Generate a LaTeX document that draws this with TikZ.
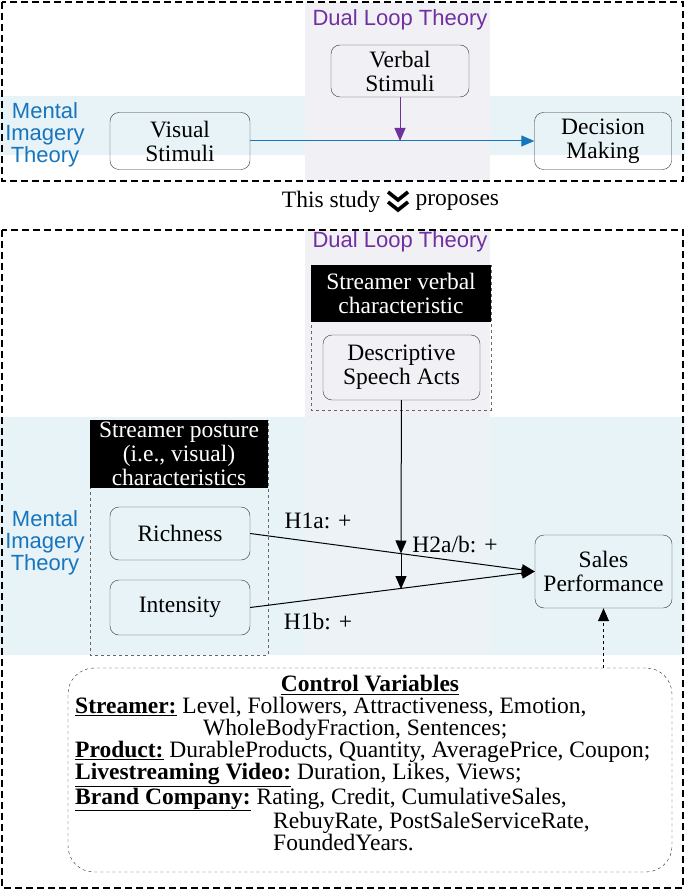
\documentclass[tikz,border=0pt]{standalone}
\usepackage{fontspec}
\setmainfont{Liberation Serif}
\newfontfamily\sansf{Liberation Sans}
\usetikzlibrary{arrows.meta}
\definecolor{bandblue}{RGB}{232,243,247}
\definecolor{colgray}{RGB}{241,241,245}
\definecolor{theoblue}{RGB}{23,117,189}
\definecolor{theopurple}{RGB}{112,48,160}
\tikzset{
  var/.style={draw=black!80,rounded corners=9pt,align=center,inner sep=0pt},
  head/.style={fill=black,text=white,align=center,inner sep=0pt},
  theory/.style={font=\sansf\fontsize{22}{22}\selectfont,align=center},
  lab/.style={inner sep=1pt},
  arr/.style={-{Triangle[length=13pt,width=11pt]},line width=1pt}
}
\begin{document}
\begin{tikzpicture}[x=1pt,y=-1pt,font=\fontsize{23.5}{24}\selectfont]
\useasboundingbox (0,0) rectangle (685,890);
% backgrounds
\fill[bandblue] (0,96) rectangle (685,155);
\fill[colgray] (305,2) rectangle (490,181);
\fill[bandblue] (0,417) rectangle (685,655);
\fill[colgray] (305,230) rectangle (490,417);
\fill[colgray!60!bandblue] (305,417) rectangle (490,655);
\draw[dashed,line width=1.2pt,dash pattern=on 7pt off 4pt] (2,2) rectangle (683,181);
\draw[dashed,line width=1.2pt,dash pattern=on 7pt off 4pt] (2,230) rectangle (683,888);
% top part
\node[theory,text=theopurple] (dualA) at (400,20) {Dual Loop Theory};
\node[theory,text=theoblue] (mentA) at (45,135) {Mental\\Imagery\\Theory};
\node[var,minimum width=138pt,minimum height=52pt] (verbal) at (400,71) {Verbal\\Stimuli};
\node[var,minimum width=140pt,minimum height=57pt] (visual) at (180,141) {Visual\\Stimuli};
\node[var,minimum width=137pt,minimum height=57pt] (decide) at (603,141) {Decision\\Making};
\draw[arr,theoblue] (visual) -- (decide);
\draw[arr,theopurple] (verbal) -- (400,141);
% this study proposes
\node[anchor=east] (study) at (384,202) {This study};
\node[anchor=west] (prop) at (412,202) {proposes};
\draw[line width=3.6pt] (388,192) -- (398,200) -- (408,192);
\draw[line width=3.6pt] (388,202) -- (398,210) -- (408,202);
% bottom part
\node[theory,text=theopurple] (dualB) at (400,242) {Dual Loop Theory};
\node[theory,text=theoblue] (mentB) at (45,543) {Mental\\Imagery\\Theory};
\draw[dashed,black!60] (311,265) rectangle (491,410);
\node[head,minimum width=180pt,minimum height=57pt] (verbhead) at (401,293.5) {Streamer verbal\\characteristic};
\node[var,minimum width=157pt,minimum height=65pt] (speech) at (401.5,367.5) {Descriptive\\Speech Acts};
\draw[dashed,black!60] (90,420) rectangle (268,655);
\node[head,minimum width=178pt,minimum height=68pt] (posthead) at (179,454) {Streamer posture\\(i.e., visual)\\characteristics};
\node[var,minimum width=140pt,minimum height=53pt] (rich) at (180,533.5) {Richness};
\node[var,minimum width=140pt,minimum height=55pt] (inten) at (180,607.5) {Intensity};
\node[var,minimum width=137pt,minimum height=73pt] (sales) at (603.5,571.5) {Sales\\Performance};
\coordinate (m1) at (401,553.5);
\coordinate (m2) at (401,589);
\draw[arr] (rich.east) -- (sales.west);
\draw[arr] (inten.east) -- (sales.west);
\draw[arr] (speech) -- (m1);
\draw[arr] (m1) -- (m2);
\node[lab] (h1a) at (318,521) {H1a: +};
\node[lab] (h2) at (455,545) {H2a/b: +};
\node[lab] (h1b) at (318,622) {H1b: +};
% control variables
\node[draw=black!85,dashed,rounded corners=26pt,minimum width=604pt,minimum height=204pt,inner sep=0pt] (ctrl) at (370,770) {};
\node[font=\bfseries\fontsize{23.5}{22}\selectfont] (ctrltitle) at (370,685) {\underline{Control Variables}};
\node[anchor=north west,align=left,inner sep=0pt,font=\fontsize{23.5}{22}\selectfont] (ctrltext) at (75,697) {%
\textbf{\underline{Streamer:}}\ Level, Followers, Attractiveness, Emotion,\\
\hspace*{128pt}WholeBodyFraction, Sentences;\\
\textbf{\underline{Product:}} DurableProducts, Quantity, AveragePrice, Coupon;\\
\textbf{\underline{Livestreaming Video:}} Duration, Likes, Views;\\
\textbf{\underline{Brand Company:}} Rating, Credit, CumulativeSales,\\
\hspace*{198pt}RebuyRate, PostSaleServiceRate,\\
\hspace*{198pt}FoundedYears.};
\draw[arr,dashed,line width=0.7pt] (ctrl.north -| sales.south) -- (sales.south);
\end{tikzpicture}
\end{document}
